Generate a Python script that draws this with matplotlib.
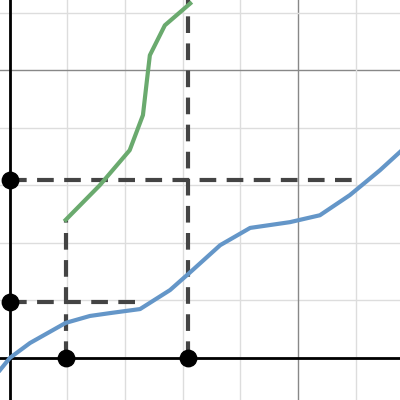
import matplotlib
matplotlib.use("Agg")
import matplotlib.pyplot as plt

# curve samples
blue_x = [-0.17, 0, 0.35, 0.97, 1.39, 1.74, 2.26, 2.78, 3.13, 3.65, 4.17, 4.86, 5.38, 5.90, 6.42, 6.77]
blue_y = [-0.21, 0, 0.26, 0.61, 0.73, 0.78, 0.85, 1.18, 1.49, 1.96, 2.26, 2.36, 2.48, 2.83, 3.26, 3.58]
green_x = [0.97, 1.56, 2.08, 2.31, 2.38, 2.43, 2.69, 3.13]
green_y = [2.40, 3.00, 3.61, 4.22, 4.83, 5.26, 5.78, 6.16]

# dashed guide segments: (x0, y0, x1, y1)
guides = [(0.97, 0, 0.97, 2.40), (0, 0.97, 2.25, 0.97),
          (0, 3.09, 6.1, 3.09), (3.09, 0, 3.09, 6.3)]
dots_x = [0, 0, 0.97, 3.09]
dots_y = [0.97, 3.09, 0, 0]

fig = plt.figure(figsize=(4, 4), dpi=100)
ax = fig.add_axes([0, 0, 1, 1])
ax.set_xlim(-0.17, 6.77)
ax.set_ylim(-0.73, 6.22)

for v in range(0, 7):
    major = v % 5 == 0
    ax.axvline(v, color="#888888" if major else "#dddddd", lw=1.0, zorder=0)
    ax.axhline(v, color="#888888" if major else "#dddddd", lw=1.0, zorder=0)
ax.axvline(0, color="black", lw=2, zorder=1)
ax.axhline(0, color="black", lw=2, zorder=1)

for x0, y0, x1, y1 in guides:
    ax.plot([x0, x1], [y0, y1], color="#444444", lw=3, ls=(0, (4, 2.5)), zorder=2)

ax.plot(blue_x, blue_y, color="#6496c8", lw=3, zorder=3)
ax.plot(green_x, green_y, color="#6aaa6e", lw=3, zorder=3)
ax.scatter(dots_x, dots_y, s=140, color="black", zorder=4, clip_on=False)

ax.set_xticks([])
ax.set_yticks([])
for s in ax.spines.values():
    s.set_visible(False)
fig.savefig("out.png")
